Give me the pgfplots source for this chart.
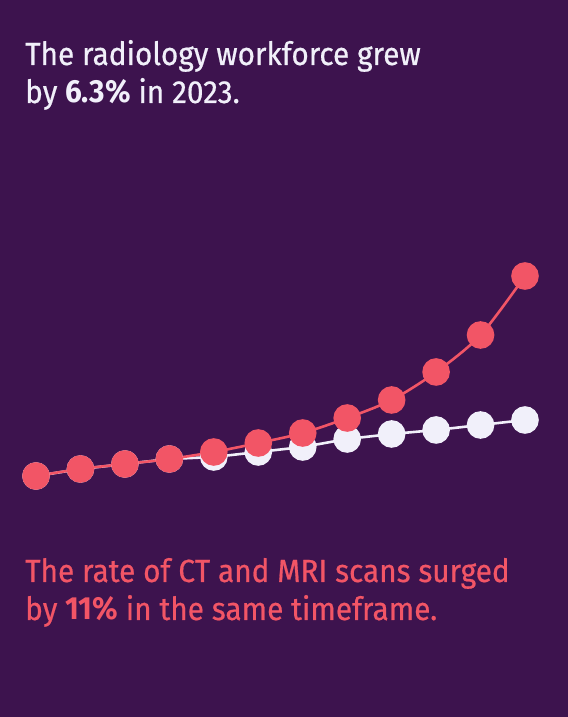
\documentclass[border=0pt]{standalone}
\usepackage{pgfplots}
\pgfplotsset{compat=1.18}
\usepackage{fontspec}
\setmainfont{Fira Sans}[FakeStretch=0.93, FakeBold=0.6, BoldFeatures={FakeBold=0}]
\definecolor{bg}{HTML}{3D134E}
\definecolor{coral}{HTML}{F25566}
\definecolor{pale}{HTML}{F1F0FA}
\begin{document}
\begin{tikzpicture}[x=1bp,y=1bp]
\fill[bg] (0,0) rectangle (568,717);
\tikzset{txt/.style={anchor=base west, inner sep=0pt, font=\fontsize{32bp}{38bp}\selectfont}}
\node[txt, text=pale] at (25,717-65) {The radiology workforce grew};
\node[txt, text=pale] at (25,717-103) {by \textbf{6.3\%} in 2023.};
\node[txt, text=coral] at (25,717-582) {The rate of CT and MRI scans surged};
\node[txt, text=coral] at (25,717-620) {by \textbf{11\%} in the same timeframe.};
\begin{axis}[
  at={(36bp,241bp)}, anchor=origin,
  x=44.4545bp, y=1bp,
  xmin=0, xmax=11, ymin=0, ymax=200,
  hide axis, clip=false,
]
\addplot[pale, line width=2.6bp, mark=*, mark size=12.5bp, mark options={fill=pale, draw=none}]
coordinates {(0,0) (1,7) (2,12) (3,17) (4,19) (5,24) (6,29) (7,37) (8,42) (9,46) (10,51) (11,56)};
\addplot[coral, line width=2.6bp, smooth, mark=*, mark size=12.5bp, mark options={fill=coral, draw=none}]
coordinates {(0,0) (1,7) (2,12) (3,17) (4,24) (5,33) (6,43) (7,58) (8,76) (9,104) (10,141) (11,200)};
\end{axis}
\end{tikzpicture}
\end{document}
